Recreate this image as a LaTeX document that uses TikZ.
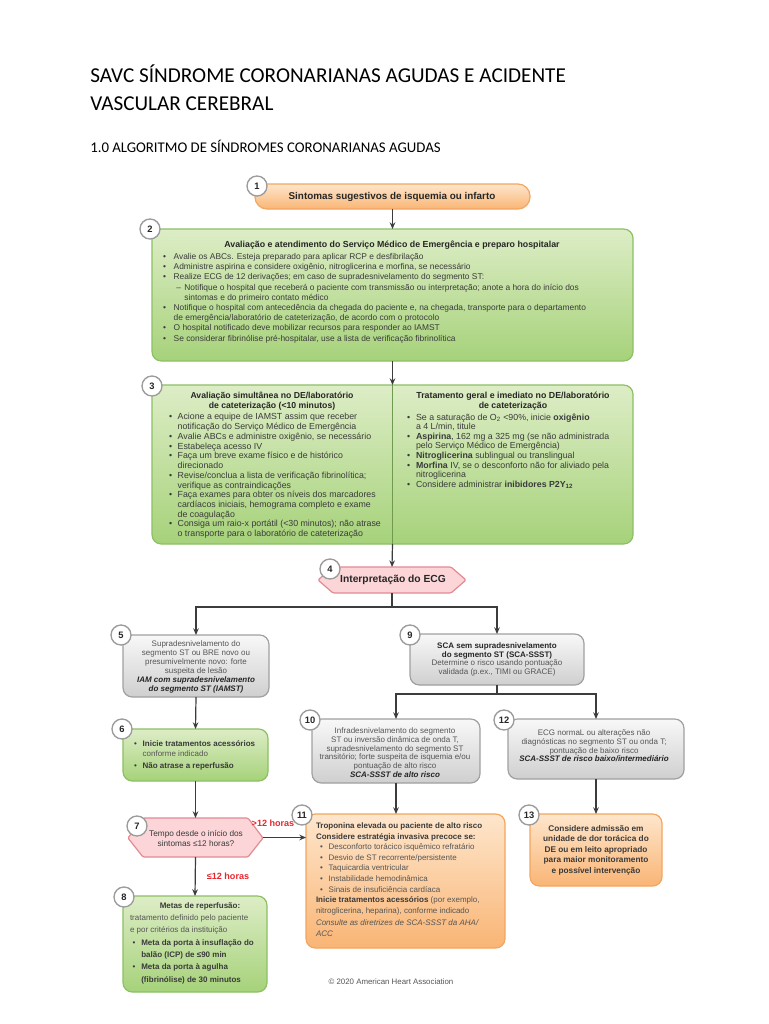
\documentclass[tikz,border=0pt]{standalone}
\usepackage{fontspec}
\setmainfont{Carlito}
\newfontfamily\df{Liberation Sans}
\usetikzlibrary{arrows.meta}
\lineskiplimit=-20pt
\definecolor{grT}{HTML}{DDEDC6}
\definecolor{grBot}{HTML}{A6D27A}
\definecolor{grB}{HTML}{8CC063}
\definecolor{orT}{HTML}{FEE6CC}
\definecolor{orBot}{HTML}{F9B575}
\definecolor{orB}{HTML}{F4A55E}
\definecolor{gyT}{HTML}{F8F8F8}
\definecolor{gyBot}{HTML}{CFCFCF}
\definecolor{gyB}{HTML}{A0A0A0}
\definecolor{pkF}{HTML}{FBD5D7}
\definecolor{pkB}{HTML}{E38A92}
\definecolor{numB}{HTML}{9B9B9B}
\definecolor{arrC}{HTML}{3C3C3C}
\definecolor{txC}{HTML}{3A3A3A}
\definecolor{txG}{HTML}{555555}
\definecolor{redL}{HTML}{E8262D}
\newcommand\mkbox[6]{\node[#1, minimum width={(#5-#3)*0.75pt}, minimum height={(#6-#4)*0.75pt}] (#2) at ({(#3+#5)/2},{(#4+#6)/2}) {};}
\newcommand\bu[1][8pt]{\makebox[#1][l]{\textbullet}}
\tikzset{
  gbox/.style={draw=grB, line width=0.9pt, rounded corners=7pt, top color=grT, bottom color=grBot, inner sep=0pt, outer sep=0pt},
  obox/.style={draw=orB, line width=0.9pt, rounded corners=7pt, top color=orT, bottom color=orBot, inner sep=0pt, outer sep=0pt},
  ybox/.style={draw=gyB, line width=0.9pt, rounded corners=7pt, top color=gyT, bottom color=gyBot, inner sep=0pt, outer sep=0pt},
  pbox/.style={draw=pkB, line width=0.9pt, fill=pkF, rounded corners=1pt},
  num/.style={circle, draw=numB, fill=white, line width=1pt, minimum size=15pt, inner sep=0pt, font=\df\bfseries\fontsize{7}{7}\selectfont, text=black!85},
  arr/.style={draw=arrC, line width=0.9pt, -{Stealth[length=5pt,width=4.2pt]}},
  ln/.style={draw=arrC, line width=0.9pt},
  txt/.style={inner sep=0pt, outer sep=0pt, text=txC, align=left},
  ctxt/.style={inner sep=0pt, outer sep=0pt, text=txG, align=center},
  lab/.style={inner sep=0pt, text=redL, font=\df\bfseries\fontsize{6.8}{7}\selectfont},
}
\begin{document}
\begin{tikzpicture}[x=0.75pt,y=-0.75pt]
\useasboundingbox (0,0) rectangle (768,1024);
\fill[white] (0,0) rectangle (768,1024);
% titles
\node[inner sep=0pt, anchor=base west, font=\fontsize{15.9}{18}\selectfont] (t1) at (90,82.5) {SAVC SÍNDROME CORONARIANAS AGUDAS E ACIDENTE};
\node[inner sep=0pt, anchor=base west, font=\fontsize{15.9}{18}\selectfont] (t2) at (90,110.5) {VASCULAR CEREBRAL};
\node[inner sep=0pt, anchor=base west, font=\fontsize{11.1}{12}\selectfont] (t3) at (90,152.5) {1.0 ALGORITMO DE SÍNDROMES CORONARIANAS AGUDAS};
% boxes
\mkbox{obox, rounded corners=9pt}{b1}{255}{184}{530}{209}
\mkbox{gbox}{b2}{152}{229}{633}{361}
\mkbox{gbox}{b3}{152}{385}{633}{544}
\mkbox{ybox}{b5}{123}{635}{269}{697}
\mkbox{ybox}{b9}{410}{634}{584}{685}
\mkbox{ybox}{b10}{312}{719}{480}{783}
\mkbox{ybox}{b12}{508}{719}{684}{779}
\mkbox{gbox}{b6}{123}{729}{268}{781}
\mkbox{obox}{b11}{306}{814}{505}{948}
\mkbox{obox}{b13}{530}{814}{662}{886}
\mkbox{gbox}{b8}{123}{896}{267}{992}
% hexagons
\draw[pbox] (318,580) -- (333,567) -- (451,567) -- (466,580) -- (451,593) -- (333,593) -- cycle;
\node[inner sep=0pt, outer sep=0pt, minimum width={148*0.75pt}, minimum height={26*0.75pt}] (b4) at (392,580) {};
\draw[pbox] (128,838) -- (143,818) -- (248,818) -- (263,838) -- (248,857) -- (143,857) -- cycle;
\node[inner sep=0pt, outer sep=0pt, minimum width={135*0.75pt}, minimum height={39*0.75pt}] (b7) at (195.5,837.5) {};
% divider in box 3
\draw[draw=grB!80!black, line width=0.6pt] (b3.north) -- (b3.south);
% connectors
\draw[arr] (b1.south) -- (b2.north);
\draw[arr] (b2.south) -- (b3.north);
\draw[arr] (b3.south) -- (b4.north);
\coordinate (j1) at (392,607);
\draw[ln] (b4.south) -- (j1);
\draw[arr] (j1) -| (b5.north);
\draw[arr] (j1) -| (b9.north);
\coordinate (j2) at (497,694);
\draw[ln] (b9.south) -- (j2);
\draw[arr] (j2) -| (b10.north);
\draw[arr] (j2) -| (b12.north);
\draw[arr] (b5.south) -- (b6.north);
\draw[arr] (b6.south) -- (b7.north);
\draw[arr] (b7.east) -- (b7.east -| b11.west);
\draw[arr] (b7.south) -- (b8.north);
\draw[arr] (b10.south) -- (b10.south |- b11.north);
\draw[arr] (b12.south) -- (b12.south |- b13.north);
% labels
\node[lab] (l1) at (273,823) {>12 horas};
\node[lab] (l2) at (228,876) {≤12 horas};
% numbers
\node[num] (n1) at (257,186) {1};
\node[num] (n2) at (150,229) {2};
\node[num] (n3) at (152,386) {3};
\node[num] (n4) at (330,569) {4};
\node[num] (n5) at (121,635) {5};
\node[num] (n6) at (122,729) {6};
\node[num] (n7) at (137,826) {7};
\node[num] (n8) at (124,897) {8};
\node[num] (n9) at (410,635) {9};
\node[num] (n10) at (310,720) {10};
\node[num] (n11) at (302,815) {11};
\node[num] (n12) at (504,720) {12};
\node[num] (n13) at (529,815) {13};
% texts
\node[txt, text=black!85, font=\df\bfseries\fontsize{7.4}{8}\selectfont] (x1) at (392,197) {Sintomas sugestivos de isquemia ou infarto};
\node[txt, text=black!85, font=\df\bfseries\fontsize{6.6}{7.6}\selectfont] (x2t) at (392,245) {Avaliação e atendimento do Serviço Médico de Emergência e preparo hospitalar};
\node[txt, anchor=north west, font=\df\fontsize{6.3}{7.65}\selectfont] (x2) at (163,253.5) {%
\bu Avalie os ABCs. Esteja preparado para aplicar RCP e desfibrilação\\
\bu Administre aspirina e considere oxigênio, nitroglicerina e morfina, se necessário\\
\bu Realize ECG de 12 derivações; em caso de supradesnivelamento do segmento ST:\\
\hspace*{10pt}\makebox[6pt][l]{–}Notifique o hospital que receberá o paciente com transmissão ou interpretação; anote a hora do início dos\\
\hspace*{16pt}sintomas e do primeiro contato médico\\
\bu Notifique o hospital com antecedência da chegada do paciente e, na chegada, transporte para o departamento\\
\hspace*{8pt}de emergência/laboratório de cateterização, de acordo com o protocolo\\
\bu O hospital notificado deve mobilizar recursos para responder ao IAMST\\
\bu Se considerar fibrinólise pré-hospitalar, use a lista de verificação fibrinolítica};
\node[txt, align=center, text=black!85, font=\df\bfseries\fontsize{6.5}{7.8}\selectfont] (x3lt) at (272,401) {Avaliação simultânea no DE/laboratório\\de cateterização (<10 minutos)};
\node[txt, anchor=north west, font=\df\fontsize{6.6}{7.3}\selectfont] (x3l) at (169,413.5) {%
\bu[6.5pt]Acione a equipe de IAMST assim que receber\\
\hspace*{6.5pt}notificação do Serviço Médico de Emergência\\
\bu[6.5pt]Avalie ABCs e administre oxigênio, se necessário\\
\bu[6.5pt]Estabeleça acesso IV\\
\bu[6.5pt]Faça um breve exame físico e de histórico\\
\hspace*{6.5pt}direcionado\\
\bu[6.5pt]Revise/conclua a lista de verificação fibrinolítica;\\
\hspace*{6.5pt}verifique as contraindicações\\
\bu[6.5pt]Faça exames para obter os níveis dos marcadores\\
\hspace*{6.5pt}cardíacos iniciais, hemograma completo e exame\\
\hspace*{6.5pt}de coagulação\\
\bu[6.5pt]Consiga um raio-x portátil (<30 minutos); não atrase\\
\hspace*{6.5pt}o transporte para o laboratório de cateterização};
\node[txt, align=center, text=black!85, font=\df\bfseries\fontsize{6.6}{7.8}\selectfont] (x3rt) at (513,401) {Tratamento geral e imediato no DE/laboratório\\de cateterização};
\node[txt, anchor=north west, font=\df\fontsize{6.6}{7.2}\selectfont] (x3r) at (407,413.5) {%
\bu[6.8pt]Se a saturação de O\textsubscript{2} <90\%, inicie \textbf{oxigênio}\\
\hspace*{6.8pt}a 4 L/min, titule\\
\bu[6.8pt]\textbf{Aspirina}, 162 mg a 325 mg (se não administrada\\
\hspace*{6.8pt}pelo Serviço Médico de Emergência)\\
\bu[6.8pt]\textbf{Nitroglicerina} sublingual ou translingual\\
\bu[6.8pt]\textbf{Morfina} IV, se o desconforto não for aliviado pela\\
\hspace*{6.8pt}nitroglicerina\\
\bu[6.8pt]Considere administrar \textbf{inibidores P2Y\textsubscript{12}}};
\node[txt, text=black!85, font=\df\bfseries\fontsize{7.7}{8}\selectfont] (x4) at (393,580) {Interpretação do ECG};
\node[ctxt, font=\df\fontsize{6.0}{6.7}\selectfont] (x5) at (196,667) {Supradesnivelamento do\\segmento ST ou BRE novo ou\\presumivelmente novo: forte\\suspeita de lesão\\{\color{black!85}\bfseries\itshape IAM com supradesnivelamento}\\{\color{black!85}\bfseries\itshape do segmento ST (IAMST)}};
\node[ctxt, font=\df\fontsize{6.0}{6.5}\selectfont] (x9) at (497,659.5) {{\color{black!85}\bfseries SCA sem supradesnivelamento}\\{\color{black!85}\bfseries do segmento ST (SCA-SSST)}\\Determine o risco usando pontuação\\validada (p.ex., TIMI ou GRACE)};
\node[ctxt, font=\df\fontsize{6.0}{6.5}\selectfont] (x10) at (395,752.5) {Infradesnivelamento do segmento\\ST ou inversão dinâmica de onda T,\\supradesnivelamento do segmento ST\\transitório; forte suspeita de isquemia e/ou\\pontuação de alto risco\\{\color{black!85}\bfseries\itshape SCA-SSST de alto risco}};
\node[ctxt, font=\df\fontsize{6.0}{6.5}\selectfont] (x12) at (594,746) {ECG normaL ou alterações não\\diagnósticas no segmento ST ou onda T;\\pontuação de baixo risco\\{\color{black!85}\bfseries\itshape SCA-SSST de risco baixo/intermediário}};
\node[txt, anchor=north west, font=\df\fontsize{6.0}{7}\selectfont] (x6) at (134,741) {%
\bu[6.5pt]\textbf{Inicie tratamentos acessórios}\\
\hspace*{6.5pt}{\color{txG}conforme indicado}\\[2pt]
\bu[6.5pt]\textbf{Não atrase a reperfusão}};
\node[ctxt, text=txC, font=\df\fontsize{6.2}{8}\selectfont] (x7) at (196,838.5) {Tempo desde o início dos\\sintomas ≤12 horas?};
\node[txt, anchor=north west, font=\df\fontsize{6.0}{7.9}\selectfont] (x11) at (316,823) {%
\textbf{Troponina elevada ou paciente de alto risco}\\
\textbf{Considere estratégia invasiva precoce se:}\\
{\color{txG}\hspace*{3pt}\bu[6.5pt]Desconforto torácico isquêmico refratário}\\
{\color{txG}\hspace*{3pt}\bu[6.5pt]Desvio de ST recorrente/persistente}\\
{\color{txG}\hspace*{3pt}\bu[6.5pt]Taquicardia ventricular}\\
{\color{txG}\hspace*{3pt}\bu[6.5pt]Instabilidade hemodinâmica}\\
{\color{txG}\hspace*{3pt}\bu[6.5pt]Sinais de insuficiência cardíaca}\\
\textbf{Inicie tratamentos acessórios} {\color{txG}(por exemplo,}\\
{\color{txG}nitroglicerina, heparina), conforme indicado}\\[1.5pt]
{\color{txG}\itshape Consulte as diretrizes de SCA-SSST da AHA/}\\
{\color{txG}\itshape ACC}};
\node[ctxt, text=txC, font=\df\bfseries\fontsize{6.2}{7.9}\selectfont] (x13) at (596,850) {Considere admissão em\\unidade de dor torácica do\\DE ou em leito apropriado\\para maior monitoramento\\e possível intervenção};
\node[txt, text=txC, font=\df\bfseries\fontsize{6.0}{7}\selectfont] (x8t) at (200,906) {Metas de reperfusão:};
\node[txt, anchor=north west, font=\df\fontsize{6.0}{9.3}\selectfont] (x8) at (130,914.5) {%
{\color{txG}tratamento definido pelo paciente}\\
{\color{txG}e por critérios da instituição}\\
\hspace*{2pt}\bu[6.5pt]\textbf{Meta da porta à insuflação do}\\
\hspace*{8.5pt}\textbf{balão (ICP) de ≤90 min}\\
\hspace*{2pt}\bu[6.5pt]\textbf{Meta da porta à agulha}\\
\hspace*{8.5pt}\textbf{(fibrinólise) de 30 minutos}};
\node[inner sep=0pt, text=txG, font=\df\fontsize{5.9}{6}\selectfont] (cp) at (391,982) {© 2020 American Heart Association};
\end{tikzpicture}
\end{document}
